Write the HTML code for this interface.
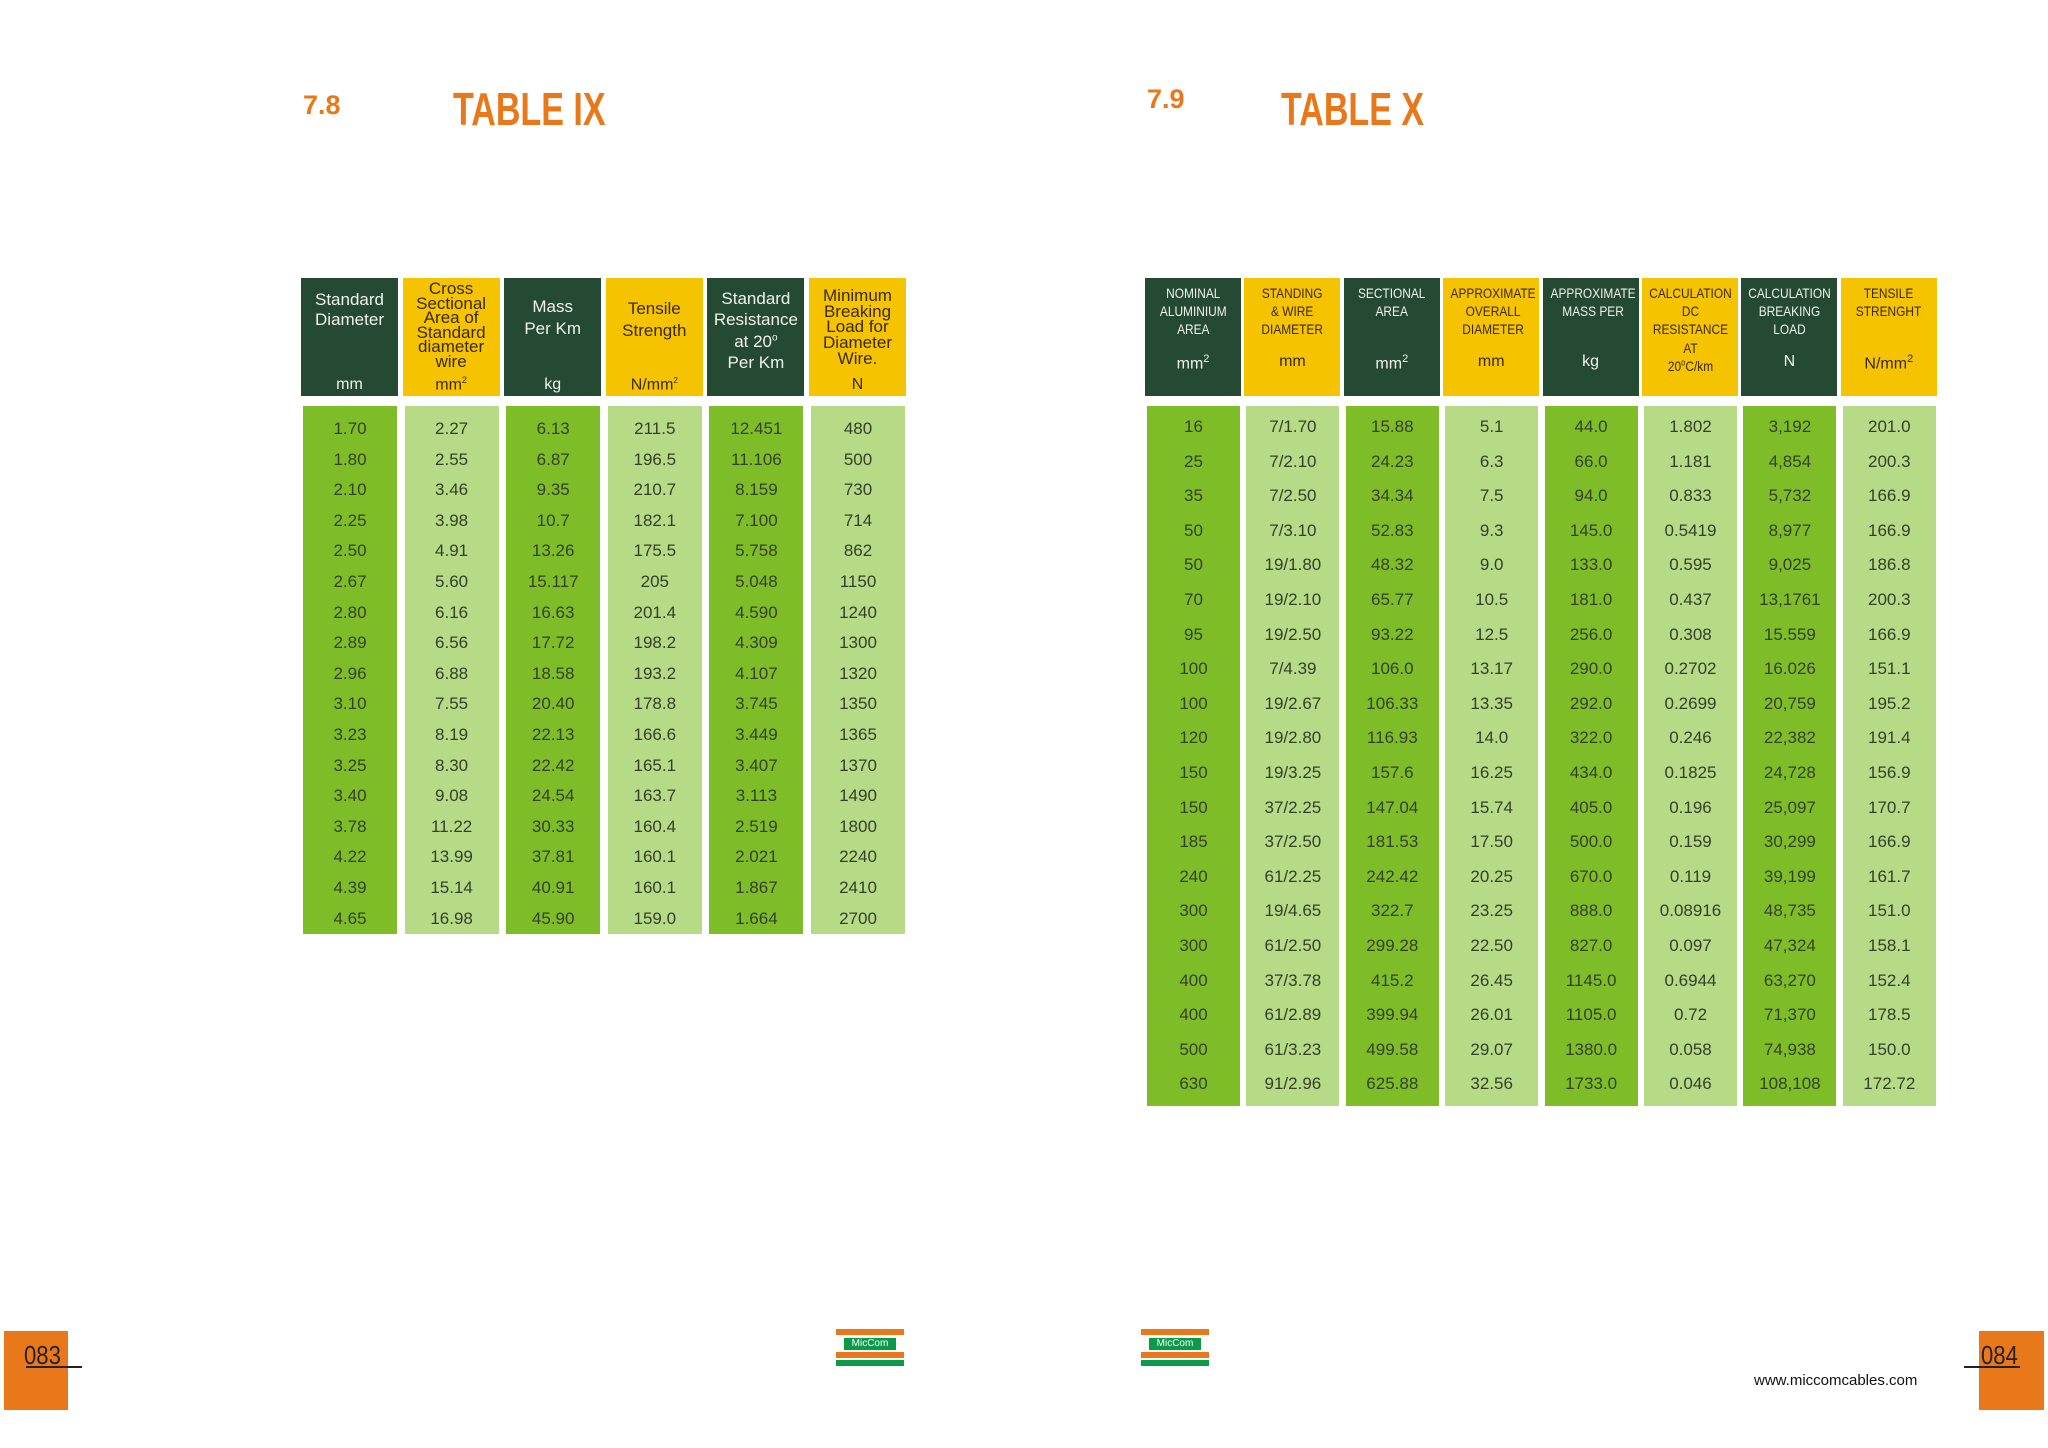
<!DOCTYPE html>
<html><head><meta charset="utf-8">
<style>
body{margin:0;width:2048px;height:1448px;background:#fff;position:relative;overflow:hidden;font-family:"Liberation Sans",sans-serif}
.abs{position:absolute}
.num{color:#e8781a;font-weight:bold;font-size:27px}
.title{color:#e8781a;font-weight:bold;font-size:46px;transform:scaleX(0.74);transform-origin:left top;white-space:nowrap}
.hd{position:absolute;top:278px;height:118px;color:#fff;text-align:center;box-sizing:border-box;overflow:hidden}
.hd.d{background:#244a33;color:#f2f2ea}
.hd.y{background:#f5c300;color:#3a2a08}
.hd .m{position:absolute;left:0;right:0}
.hd .u{position:absolute;left:0;right:0}
.cell{position:absolute;text-align:center;color:#33402a;font-size:17px}
.cond{transform:scaleX(0.82);display:inline-block;white-space:nowrap}
.foot{position:absolute;background:#e8781a}
</style></head><body>
<div class="abs num" style="left:303px;top:90px">7.8</div>
<div class="abs title" style="left:453px;top:82px">TABLE IX</div>
<div class="abs num" style="left:1147px;top:84px">7.9</div>
<div class="abs title" style="left:1281px;top:82px">TABLE X</div>

<div id="t1"></div>
<div id="t2"></div>

<div class="foot" style="left:4px;top:1331px;width:64px;height:79px"></div>
<div class="abs" style="left:24px;top:1340px;font-size:26px;color:#222;transform:scaleX(0.85);transform-origin:left">083</div>
<div class="abs" style="left:26px;top:1366px;width:56px;height:2px;background:#222"></div>
<div class="foot" style="left:1979px;top:1331px;width:65px;height:79px"></div>
<div class="abs" style="left:1981px;top:1340px;font-size:26px;color:#222;transform:scaleX(0.85);transform-origin:left">084</div>
<div class="abs" style="left:1964px;top:1366px;width:56px;height:2px;background:#222"></div>
<div class="abs" style="left:1754px;top:1372px;font-size:15px;color:#111">www.miccomcables.com</div>

<div class="abs" style="left:836px;top:1329px;width:68px;height:38px">
<div class="abs" style="left:0;top:0;width:68px;height:6px;background:#e8781a"></div>
<div class="abs" style="left:8px;top:9px;width:52px;height:12px;background:#0a9a4a;color:#fff;font-size:10px;text-align:center;line-height:12px">MicCom</div>
<div class="abs" style="left:0;top:23px;width:68px;height:6px;background:#e8781a"></div>
<div class="abs" style="left:0;top:31px;width:68px;height:6px;background:#0a9a4a"></div></div>
<div class="abs" style="left:1141px;top:1329px;width:68px;height:38px">
<div class="abs" style="left:0;top:0;width:68px;height:6px;background:#e8781a"></div>
<div class="abs" style="left:8px;top:9px;width:52px;height:12px;background:#0a9a4a;color:#fff;font-size:10px;text-align:center;line-height:12px">MicCom</div>
<div class="abs" style="left:0;top:23px;width:68px;height:6px;background:#e8781a"></div>
<div class="abs" style="left:0;top:31px;width:68px;height:6px;background:#0a9a4a"></div></div>

<script>
const t1Diameter=["1.70","1.80","2.10","2.25","2.50","2.67","2.80","2.89","2.96","3.10","3.23","3.25","3.40","3.78","4.22","4.39","4.65"];
const t1Cross=["2.27","2.55","3.46","3.98","4.91","5.60","6.16","6.56","6.88","7.55","8.19","8.30","9.08","11.22","13.99","15.14","16.98"];
const t1Mass=["6.13","6.87","9.35","10.7","13.26","15.117","16.63","17.72","18.58","20.40","22.13","22.42","24.54","30.33","37.81","40.91","45.90"];
const t1Tensile=["211.5","196.5","210.7","182.1","175.5","205","201.4","198.2","193.2","178.8","166.6","165.1","163.7","160.4","160.1","160.1","159.0"];
const t1Resistance=["12.451","11.106","8.159","7.100","5.758","5.048","4.590","4.309","4.107","3.745","3.449","3.407","3.113","2.519","2.021","1.867","1.664"];
const t1Load=["480","500","730","714","862","1150","1240","1300","1320","1350","1365","1370","1490","1800","2240","2410","2700"];

const t2Area=["16","25","35","50","50","70","95","100","100","120","150","150","185","240","300","300","400","400","500","630"];
const t2Stranding=["7/1.70","7/2.10","7/2.50","7/3.10","19/1.80","19/2.10","19/2.50","7/4.39","19/2.67","19/2.80","19/3.25","37/2.25","37/2.50","61/2.25","19/4.65","61/2.50","37/3.78","61/2.89","61/3.23","91/2.96"];
const t2Sectional=["15.88","24.23","34.34","52.83","48.32","65.77","93.22","106.0","106.33","116.93","157.6","147.04","181.53","242.42","322.7","299.28","415.2","399.94","499.58","625.88"];
const t2Overall=["5.1","6.3","7.5","9.3","9.0","10.5","12.5","13.17","13.35","14.0","16.25","15.74","17.50","20.25","23.25","22.50","26.45","26.01","29.07","32.56"];
const t2MassPer=["44.0","66.0","94.0","145.0","133.0","181.0","256.0","290.0","292.0","322.0","434.0","405.0","500.0","670.0","888.0","827.0","1145.0","1105.0","1380.0","1733.0"];
const t2Resistance=["1.802","1.181","0.833","0.5419","0.595","0.437","0.308","0.2702","0.2699","0.246","0.1825","0.196","0.159","0.119","0.08916","0.097","0.6944","0.72","0.058","0.046"];
const t2Breaking=["3,192","4,854","5,732","8,977","9,025","13,1761","15.559","16.026","20,759","22,382","24,728","25,097","30,299","39,199","48,735","47,324","63,270","71,370","74,938","108,108"];
const t2TensileStr=["201.0","200.3","166.9","166.9","186.8","200.3","166.9","151.1","195.2","191.4","156.9","170.7","166.9","161.7","151.0","158.1","152.4","178.5","150.0","172.72"];

const t1Heads=[["Standard<br>Diameter","mm",8,1.15],["Cross<br>Sectional<br>Area of<br>Standard<br>diameter<br>wire","mm<sup style='font-size:9px'>2</sup>",0,0.86],["Mass<br>Per Km","kg",14,1.3],["Tensile<br>Strength","N/mm<sup style='font-size:8px'>2</sup>",16,1.3],["Standard<br>Resistance<br>at 20<sup style='font-size:10px'>o</sup><br>Per Km","",6,1.25],["Minimum<br>Breaking<br>Load for<br>Diameter<br>Wire.","N",6,0.92]];
const t2Heads=[["NOMINAL<br>ALUMINIUM<br>AREA","mm<sup style='font-size:11px'>2</sup>"],["STANDING<br>&amp; WIRE<br>DIAMETER","mm"],["SECTIONAL<br>AREA","mm<sup style='font-size:11px'>2</sup>"],["APPROXIMATE<br>OVERALL<br>DIAMETER","mm"],["APPROXIMATE<br>MASS PER","kg"],["CALCULATION<br>DC<br>RESISTANCE<br>AT<br>20<sup style='font-size:9px'>o</sup>C/km",""],["CALCULATION<br>BREAKING<br>LOAD","N"],["TENSILE<br>STRENGHT","N/mm<sup style='font-size:11px'>2</sup>"]];

function build(root,cols,heads,x0,pitch,w,rowTop,rowH,small,textOff){
  cols.forEach((col,i)=>{
    const x=x0+i*pitch;
    const h=document.createElement('div');
    h.className='hd '+(i%2?'y':'d');
    h.style.left=(x-2)+'px';h.style.width=(w+3)+'px';
    
    
    const hd=heads[i];
    if(!small){
      h.innerHTML="<div class='m' style='top:"+(hd[2]+4)+"px;font-size:17px;line-height:"+hd[3]+"'>"+hd[0]+"</div><div class='u' style='bottom:2px;font-size:16px'>"+hd[1]+"</div>";
    } else {
      h.innerHTML="<div class='m' style='top:6px;font-size:14px;line-height:1.3'><span class='cond' style='transform:scaleX(0.85)'>"+hd[0]+"</span></div><div class='u' style='top:75px;font-size:16px'>"+hd[1]+"</div>";
    }
    root.appendChild(h);
    const bg=document.createElement('div');
    bg.className='abs';
    bg.style.cssText='left:'+x+'px;top:'+rowTop+'px;width:'+w+'px;height:'+(rowH*col.length+8)+'px;background:'+(i%2?'#b6da85':'#7ebd27');
    
    
    root.appendChild(bg);
    col.forEach((v,r)=>{
      const c=document.createElement('div');
      c.className='cell';
      c.style.left=x+'px';c.style.width=w+'px';
      c.style.top=(rowTop+textOff+r*rowH)+'px';c.style.height=rowH+'px';c.style.lineHeight=rowH+'px';
      c.textContent=v;
      
      
      root.appendChild(c);
    });
  });
}
build(document.getElementById('t1'),[t1Diameter,t1Cross,t1Mass,t1Tensile,t1Resistance,t1Load],t1Heads,303,101.6,94,406,30.6,false,8);
build(document.getElementById('t2'),[t2Area,t2Stranding,t2Sectional,t2Overall,t2MassPer,t2Resistance,t2Breaking,t2TensileStr],t2Heads,1147,99.4,93,406,34.6,true,4);
</script>
</body></html>
